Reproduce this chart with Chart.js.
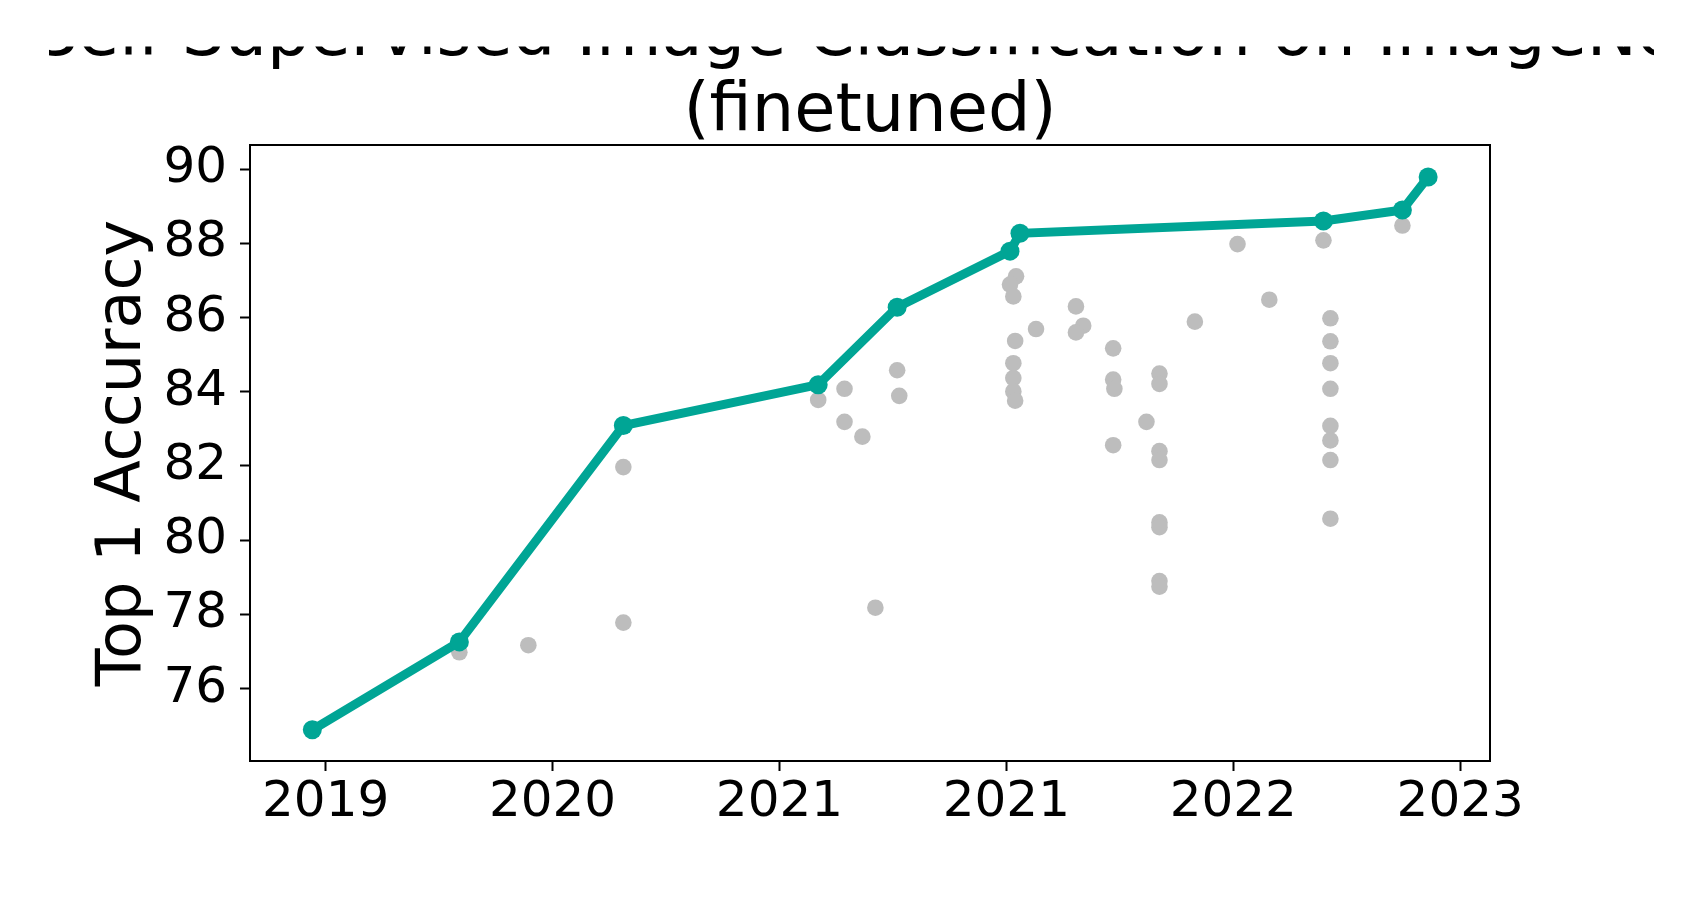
<!DOCTYPE html>
<html>
<head>
<meta charset="utf-8">
<script src="https://cdn.jsdelivr.net/npm/chart.js@4.4.0/dist/chart.umd.min.js"></script>
<style>
  html, body { margin: 0; padding: 0; background: #fff; }
  #wrap { width: 1700px; height: 900px; }
</style>
</head>
<body>
<div id="wrap"><canvas id="chart" width="1700" height="900"></canvas></div>
<script>
// x values are decimal years
const titleLines = ['Self-Supervised Image Classification on ImageNet', '(finetuned)'];
const yAxisLabel = 'Top 1 Accuracy';

const xTickPositions = [2019.2, 2019.95, 2020.7, 2021.45, 2022.2, 2022.95];
const xTickLabels = ['2019', '2020', '2021', '2021', '2022', '2023'];
const yTickValues = [76, 78, 80, 82, 84, 86, 88, 90];

// state of the art line
const sotaX = [2019.156, 2019.642, 2020.184, 2020.828, 2021.089, 2021.462, 2021.495, 2022.498, 2022.759, 2022.844];
const sotaY = [74.89, 77.26, 83.09, 84.19, 86.28, 87.79, 88.27, 88.60, 88.90, 89.79];

// all other results
const otherX = [
  2019.642, 2019.870, 2020.184, 2020.184,
  2020.828, 2020.915, 2020.915, 2020.974, 2021.017, 2021.089, 2021.096,
  2021.482, 2021.462, 2021.473, 2021.479, 2021.473, 2021.473, 2021.473, 2021.479,
  2021.548, 2021.680, 2021.704, 2021.680,
  2021.803, 2021.803, 2021.807, 2021.803, 2021.913,
  2021.956, 2021.956, 2021.956, 2021.956, 2021.956, 2021.956, 2021.956, 2021.956,
  2022.073, 2022.214, 2022.319, 2022.498,
  2022.521, 2022.521, 2022.521, 2022.521, 2022.521, 2022.521, 2022.521, 2022.521,
  2022.759
];
const otherY = [
  76.98, 77.17, 81.97, 77.78,
  83.78, 84.08, 83.19, 82.79, 78.18, 84.58, 83.89,
  87.11, 86.89, 86.57, 85.37, 84.77, 84.37, 84.01, 83.76,
  85.69, 86.30, 85.78, 85.60,
  85.17, 84.33, 84.08, 82.56, 83.19,
  84.49, 84.21, 82.40, 82.16, 80.48, 80.35, 78.90, 78.75,
  85.89, 87.98, 86.48, 88.08,
  85.98, 85.36, 84.77, 84.08, 83.08, 82.69, 82.16, 80.58,
  88.48
];

const teal = '#00a595';
const grey = '#bdbdbd';
const fontFamily = "'DejaVu Sans', sans-serif";

const toPoints = (xs, ys) => xs.map((x, i) => ({ x: x, y: ys[i] }));

// frame round the plot and the two-line title, clipped like the original figure
const framePlugin = {
  id: 'frameAndTitle',
  afterDraw(chart) {
    const { ctx, chartArea } = chart;
    ctx.save();
    ctx.strokeStyle = '#000';
    ctx.lineWidth = 2;
    ctx.strokeRect(chartArea.left, chartArea.top, chartArea.right - chartArea.left, chartArea.bottom - chartArea.top);
    ctx.restore();

    const cx = (chartArea.left + chartArea.right) / 2;
    ctx.save();
    ctx.beginPath();
    ctx.rect(49, 46.5, 1654 - 49, 120);
    ctx.clip();
    ctx.fillStyle = '#000';
    ctx.font = `67px ${fontFamily}`;
    ctx.textAlign = 'center';
    ctx.textBaseline = 'alphabetic';
    ctx.fillText(titleLines[0], cx, 55);
    ctx.fillText(titleLines[1], cx, 131);
    ctx.restore();
  }
};

const tickGrid = {
  display: true,
  drawOnChartArea: false,
  drawTicks: true,
  tickLength: 10,
  tickWidth: 2,
  tickColor: '#000',
  color: '#000'
};

new Chart(document.getElementById('chart'), {
  type: 'scatter',
  data: {
    datasets: [
      {
        label: 'others',
        data: toPoints(otherX, otherY),
        backgroundColor: grey,
        borderColor: grey,
        pointRadius: 8.3,
        pointBorderWidth: 0,
        pointHoverRadius: 8.3,
        showLine: false,
        order: 2
      },
      {
        label: 'state of the art',
        data: toPoints(sotaX, sotaY),
        backgroundColor: teal,
        borderColor: teal,
        borderWidth: 9,
        pointRadius: 9.5,
        pointBorderWidth: 0,
        pointHoverRadius: 9.5,
        showLine: true,
        tension: 0,
        order: 1
      }
    ]
  },
  options: {
    responsive: false,
    animation: false,
    events: [],
    layout: { padding: { top: 145, right: 210, left: 0, bottom: 0 } },
    plugins: {
      legend: { display: false },
      title: { display: false },
      tooltip: { enabled: false }
    },
    scales: {
      x: {
        type: 'linear',
        min: 2018.950,
        max: 2023.0485,
        border: { display: false },
        grid: tickGrid,
        afterBuildTicks: scale => { scale.ticks = xTickPositions.map(v => ({ value: v })); },
        afterFit: scale => { scale.height = 139; },
        ticks: {
          autoSkip: false,
          maxRotation: 0,
          padding: 2,
          color: '#000',
          font: { family: fontFamily, size: 50 },
          callback: (value, index) => xTickLabels[index]
        }
      },
      y: {
        type: 'linear',
        min: 74.05,
        max: 90.65,
        border: { display: false },
        grid: tickGrid,
        afterBuildTicks: scale => { scale.ticks = yTickValues.map(v => ({ value: v })); },
        afterFit: scale => { scale.width = 250; },
        title: {
          display: true,
          text: yAxisLabel,
          color: '#000',
          font: { family: fontFamily, size: 62 },
          padding: { top: 87, bottom: 0 }
        },
        ticks: {
          padding: 13,
          color: '#000',
          font: { family: fontFamily, size: 50 },
          callback: value => String(value)
        }
      }
    }
  },
  plugins: [framePlugin]
});
</script>
</body>
</html>
